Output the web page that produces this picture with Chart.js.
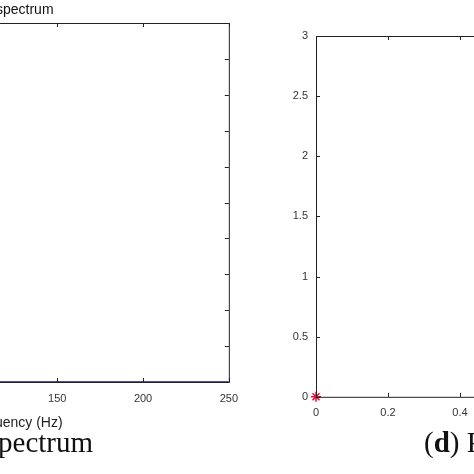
<!DOCTYPE html>
<html><head><meta charset="utf-8">
<script src="https://cdn.jsdelivr.net/npm/chart.js@4"></script>
<style>
html,body{margin:0;width:474px;height:474px;overflow:hidden;background:#fff;position:relative}
canvas{position:absolute}
.cap{position:absolute;top:426px;font-family:"Liberation Serif",serif;font-size:29px;color:#111;white-space:nowrap}
</style></head><body>
<canvas id="left" width="488" height="474" style="left:-240px;top:0"></canvas>
<canvas id="right" width="500" height="474" style="left:280px;top:0"></canvas>
<div class="cap" style="left:-134px">(c) Power spectrum</div>
<div class="cap" style="left:424px">(<b>d</b>) Phase spectrum</div>
<script>
// left panel: power spectrum
const freqs = [0, 50, 100, 150, 200, 250];
const power = [0, 0, 0, 0, 0, 0];
const freqTicks = [0, 50, 100, 150, 200, 250];
// right panel
const phaseX = [0];
const phaseY = [0];
const rightXTicks = [0, 0.2, 0.4, 0.6, 0.8, 1];
const rightYTicks = [0, 0.5, 1, 1.5, 2, 2.5, 3];

const tickFont = { family: 'Liberation Sans', size: 11 };

// matlab style box with inward ticks
const boxPlugin = {
  id: 'box',
  afterDraw(chart) {
    const { ctx, chartArea: a, scales } = chart;
    ctx.save();
    ctx.strokeStyle = '#222';
    ctx.lineWidth = 1;
    ctx.strokeRect(a.left + 0.5, a.top + 0.5, a.right - a.left, a.bottom - a.top);
    ctx.beginPath();
    scales.x.ticks.forEach(t => {
      const px = Math.round(scales.x.getPixelForValue(t.value)) + 0.5;
      ctx.moveTo(px, a.bottom); ctx.lineTo(px, a.bottom - 4);
      ctx.moveTo(px, a.top); ctx.lineTo(px, a.top + 4);
    });
    scales.y.ticks.forEach(t => {
      const py = Math.round(scales.y.getPixelForValue(t.value)) + 0.5;
      ctx.moveTo(a.left, py); ctx.lineTo(a.left + 4, py);
      ctx.moveTo(a.right, py); ctx.lineTo(a.right - 4, py);
    });
    ctx.stroke();
    ctx.restore();
  }
};

new Chart(document.getElementById('left'), {
  type: 'line',
  data: { datasets: [{ data: freqs.map((f, i) => ({ x: f, y: power[i] })), borderColor: '#1a1a6e', borderWidth: 1.5, pointRadius: 0 }] },
  options: {
    responsive: false, animation: false,
    layout: { padding: { left: 0, right: 2, top: 0, bottom: 42 } },
    plugins: {
      legend: { display: false }, tooltip: { enabled: false },
      title: { display: true, text: 'Power spectrum', color: '#111', font: { family: 'Liberation Sans', size: 14, weight: 'normal' }, padding: { top: 2, bottom: 4.2 } }
    },
    scales: {
      x: {
        type: 'linear', min: 0, max: 250,
        afterBuildTicks: s => { s.ticks = freqTicks.map(v => ({ value: v })); },
        grid: { display: false, drawTicks: false }, border: { display: false },
        ticks: { color: '#333', font: tickFont, padding: 10, maxRotation: 0 },
        title: { display: true, text: 'Frequency (Hz)', color: '#222', font: { family: 'Liberation Sans', size: 14 }, padding: { top: 0, bottom: 0 } }
      },
      y: {
        min: 0, max: 1, afterFit: s => { s.width = 40; },
        grid: { display: false, drawTicks: false }, border: { display: false },
        ticks: { display: false }
      }
    }
  },
  plugins: [boxPlugin]
});

new Chart(document.getElementById('right'), {
  type: 'scatter',
  data: { datasets: [{ data: phaseX.map((x, i) => ({ x, y: phaseY[i] })), pointStyle: 'star', pointRadius: 5, borderColor: '#e8103c', borderWidth: 1.5, backgroundColor: '#e8103c' }] },
  options: {
    responsive: false, animation: false,
    clip: false,
    layout: { padding: { left: 0, right: 104, top: 36, bottom: 44 } },
    plugins: { legend: { display: false }, tooltip: { enabled: false } },
    scales: {
      x: {
        type: 'linear', min: 0, max: 1,
        afterBuildTicks: s => { s.ticks = rightXTicks.map(v => ({ value: v })); },
        grid: { display: false, drawTicks: false }, border: { display: false },
        ticks: { color: '#333', font: tickFont, padding: 10, maxRotation: 0 }
      },
      y: {
        min: 0, max: 3, afterFit: s => { s.width = 36; },
        afterBuildTicks: s => { s.ticks = rightYTicks.map(v => ({ value: v })); },
        grid: { display: false, drawTicks: false }, border: { display: false },
        ticks: { color: '#333', font: tickFont, padding: 8, callback: v => String(v) }
      }
    }
  },
  plugins: [boxPlugin]
});
</script>
</body></html>
